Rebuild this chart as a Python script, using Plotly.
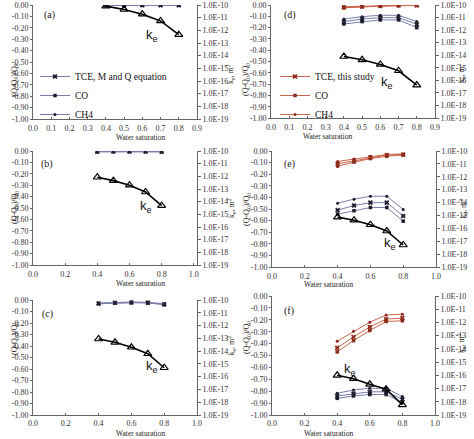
import plotly.graph_objects as go

water_sat = [0.4, 0.5, 0.6, 0.7, 0.8]

# ---- (Q-Q0)/Q0 from M and Q equation ----
mq_tce_a = [-0.003, -0.002, -0.002, -0.002, -0.002]
mq_co_a = [-0.004, -0.003, -0.003, -0.003, -0.003]
mq_ch4_a = [-0.002, -0.001, -0.001, -0.001, -0.001]

mq_tce_b = [-0.006, -0.005, -0.005, -0.005, -0.006]
mq_co_b = [-0.007, -0.006, -0.006, -0.006, -0.007]
mq_ch4_b = [-0.004, -0.003, -0.003, -0.003, -0.004]

mq_tce_c = [-0.030, -0.024, -0.021, -0.023, -0.037]
mq_co_c = [-0.033, -0.027, -0.024, -0.026, -0.041]
mq_ch4_c = [-0.026, -0.021, -0.018, -0.020, -0.033]

mq_tce_d = [-0.147, -0.124, -0.112, -0.112, -0.170]
mq_co_d = [-0.168, -0.147, -0.132, -0.132, -0.200]
mq_ch4_d = [-0.124, -0.103, -0.091, -0.091, -0.147]

mq_tce_e = [-0.510, -0.470, -0.445, -0.445, -0.560]
mq_co_e = [-0.545, -0.515, -0.487, -0.487, -0.605]
mq_ch4_e = [-0.450, -0.415, -0.390, -0.390, -0.505]

mq_tce_f = [-0.840, -0.820, -0.805, -0.805, -0.867]
mq_co_f = [-0.860, -0.840, -0.828, -0.828, -0.894]
mq_ch4_f = [-0.817, -0.790, -0.775, -0.775, -0.845]

# ---- (Q-Q0)/Q0 from this study ----
st_tce_d = [-0.020, -0.013, -0.008, -0.005, -0.003]
st_co_d = [-0.025, -0.016, -0.010, -0.006, -0.004]
st_ch4_d = [-0.015, -0.010, -0.006, -0.004, -0.002]

st_tce_e = [-0.110, -0.085, -0.055, -0.035, -0.030]
st_co_e = [-0.130, -0.095, -0.065, -0.045, -0.035]
st_ch4_e = [-0.090, -0.070, -0.045, -0.030, -0.025]

st_tce_f = [-0.436, -0.344, -0.260, -0.194, -0.186]
st_co_f = [-0.470, -0.375, -0.290, -0.214, -0.208]
st_ch4_f = [-0.380, -0.297, -0.220, -0.160, -0.153]

# ---- effective permeability ke, m^2 ----
ke_a = [8.1e-11, 4.4e-11, 1.9e-11, 5.5e-12, 4.6e-13]
ke_b = [8.5e-13, 4.6e-13, 2.0e-13, 5.8e-14, 4.8e-15]
ke_c = [8.9e-14, 4.9e-14, 2.0e-14, 6.2e-15, 5.0e-16]
ke_d = [7.9e-15, 4.3e-15, 1.85e-15, 5.8e-16, 4.2e-17]
ke_e = [7.4e-16, 4.3e-16, 1.9e-16, 6.2e-17, 5.1e-18]
ke_f = [1.0e-16, 5.6e-17, 2.1e-17, 8.9e-18, 5.9e-19]

left_ticks = [0.0, -0.1, -0.2, -0.3, -0.4, -0.5, -0.6, -0.7, -0.8, -0.9, -1.0]
left_ticktext = ["0.00", "-0.10", "-0.20", "-0.30", "-0.40", "-0.50",
                 "-0.60", "-0.70", "-0.80", "-0.90", "-1.00"]
right_ticks = [1e-10, 1e-11, 1e-12, 1e-13, 1e-14, 1e-15, 1e-16, 1e-17, 1e-18, 1e-19]
right_ticktext = ["1.0E-10", "1.0E-11", "1.0E-12", "1.0E-13", "1.0E-14",
                  "1.0E-15", "1.0E-16", "1.0E-17", "1.0E-18", "1.0E-19"]
x_ticks_09 = [0.0, 0.1, 0.2, 0.3, 0.4, 0.5, 0.6, 0.7, 0.8, 0.9]
x_ticks_10 = [0.0, 0.2, 0.4, 0.6, 0.8, 1.0]

mq_legend_names = ["TCE, M and Q equation", "CO", "CH4"]
st_legend_names = ["TCE, this study", "CO", "CH4"]

W, H = 474, 439

def px(x):
    return x / W

def py(y):
    return 1 - y / H

# panel pixel boxes (left, right, top, bottom); xt_y = bottom of x title
panels = [
    dict(label="(a)", box=(33, 197, 5, 119), xmax=0.9, xt=x_ticks_09,
         mq=(mq_tce_a, mq_co_a, mq_ch4_a), st=None, ke=ke_a,
         lab=(0.093, -0.09), kel=(0.653, -0.27), xt_y=143, so=1),
    dict(label="(b)", box=(33, 197, 151, 265), xmax=1.02, xt=x_ticks_10,
         mq=(mq_tce_b, mq_co_b, mq_ch4_b), st=None, ke=ke_b,
         lab=(0.085, -0.11), kel=(0.70, -0.49), xt_y=289, so=1),
    dict(label="(c)", box=(33, 197, 300, 415), xmax=1.0, xt=x_ticks_10,
         mq=(mq_tce_c, mq_co_c, mq_ch4_c), st=None, ke=ke_c,
         lab=(0.09, -0.12), kel=(0.726, -0.58), xt_y=439, so=0),
    dict(label="(d)", box=(271, 435, 5, 118), xmax=0.9, xt=x_ticks_09,
         mq=(mq_tce_d, mq_co_d, mq_ch4_d), st=(st_tce_d, st_co_d, st_ch4_d), ke=ke_d,
         lab=(0.104, -0.09), kel=(0.637, -0.69), xt_y=142, so=1),
    dict(label="(e)", box=(272, 436, 151, 267), xmax=1.0, xt=x_ticks_10,
         mq=(mq_tce_e, mq_co_e, mq_ch4_e), st=(st_tce_e, st_co_e, st_ch4_e), ke=ke_e,
         lab=(0.104, -0.11), kel=(0.72, -0.80), xt_y=290, so=1),
    dict(label="(f)", box=(272, 435, 296, 415), xmax=1.0, xt=x_ticks_10,
         mq=(mq_tce_f, mq_co_f, mq_ch4_f), st=(st_tce_f, st_co_f, st_ch4_f), ke=ke_f,
         lab=(0.104, -0.13), kel=(0.48, -0.62), xt_y=439, so=0),
]

SERIF = "Liberation Serif"
SANS = "Liberation Sans"
tick_font = dict(family=SERIF, size=8, color="#333333")
AXIS_COLOR = "#666666"

MQ_LINE = "#7a7eab"
MQ_MARK = "#1c1c2c"
ST_LINE = "#c9654c"
ST_MARK = "#8e2a1b"
symbols = ["x", "square", "circle"]
sizes = [4.5, 3.5, 3]

fig = go.Figure()
layout = dict(
    width=W, height=H,
    margin=dict(l=0, r=0, t=0, b=0),
    paper_bgcolor="white", plot_bgcolor="white",
    font=dict(family=SERIF, size=8, color="#333333"),
    annotations=[],
)

for i, p in enumerate(panels, start=1):
    l, r, t, b = p["box"]
    xname = "x" if i == 1 else f"x{i}"
    yname = "y" if i == 1 else f"y{i}"
    y2name = f"y{i + 6}"
    xkey = "xaxis" if i == 1 else f"xaxis{i}"
    ykey = "yaxis" if i == 1 else f"yaxis{i}"
    y2key = f"yaxis{i + 6}"

    layout[xkey] = dict(
        domain=[px(l), px(r)], range=[0, p["xmax"]], anchor=yname,
        tickvals=p["xt"], ticktext=[f"{v:.1f}" for v in p["xt"]],
        showline=True, linecolor=AXIS_COLOR, linewidth=1, mirror=False,
        ticks="inside", ticklen=2, tickcolor=AXIS_COLOR, ticklabelstandoff=p["so"],
        showgrid=False, zeroline=False, tickfont=tick_font, automargin=False,
    )
    layout[ykey] = dict(
        domain=[py(b), py(t)], range=[-1.0, 0.0], anchor=xname,
        tickvals=left_ticks, ticktext=left_ticktext,
        showline=True, linecolor=AXIS_COLOR, linewidth=1,
        ticks="outside", ticklen=2, tickcolor=AXIS_COLOR,
        showgrid=False, zeroline=False, tickfont=tick_font, automargin=False,
    )
    layout[y2key] = dict(
        type="log", range=[-19, -10], overlaying=yname, side="right", anchor=xname,
        tickvals=right_ticks, ticktext=right_ticktext,
        showline=True, linecolor=AXIS_COLOR, linewidth=1,
        ticks="outside", ticklen=3, tickcolor=AXIS_COLOR,
        showgrid=False, zeroline=False, tickfont=tick_font, automargin=False,
    )

    for k, vals in enumerate(p["mq"]):
        fig.add_trace(go.Scatter(
            x=water_sat, y=vals, xaxis=xname, yaxis=yname,
            mode="lines+markers", name=mq_legend_names[k],
            line=dict(color=MQ_LINE, width=1),
            marker=dict(symbol=symbols[k], size=sizes[k], color=MQ_MARK),
            showlegend=(i == 1), legend="legend",
        ))
    if p["st"] is not None:
        for k, vals in enumerate(p["st"]):
            fig.add_trace(go.Scatter(
                x=water_sat, y=vals, xaxis=xname, yaxis=yname,
                mode="lines+markers", name=st_legend_names[k],
                line=dict(color=ST_LINE, width=1),
                marker=dict(symbol=symbols[k], size=sizes[k], color=ST_MARK),
                showlegend=(i == 4), legend="legend2",
            ))
    fig.add_trace(go.Scatter(
        x=water_sat, y=p["ke"], xaxis=xname, yaxis=y2name,
        mode="lines+markers", name="ke",
        line=dict(color="black", width=1.6),
        marker=dict(symbol="triangle-up-open", size=7, color="black",
                    line=dict(width=1.2, color="black")),
        showlegend=False,
    ))

    ann = layout["annotations"]
    ann.append(dict(text=p["label"], x=p["lab"][0], y=p["lab"][1], xref=xname, yref=yname,
                    showarrow=False, font=dict(family=SERIF, size=10, color="#222222")))
    ann.append(dict(text="k<sub>e</sub>", x=p["kel"][0], y=p["kel"][1], xref=xname, yref=yname,
                    showarrow=False, font=dict(family=SANS, size=13, color="#111111")))
    ann.append(dict(text="Water saturation", x=px((l + r) / 2), y=py(p["xt_y"]),
                    xref="paper", yref="paper", yanchor="bottom", showarrow=False,
                    borderpad=0, font=dict(family=SERIF, size=7.5, color="#222222")))
    ann.append(dict(text="(Q-Q<sub>0</sub>)/Q<sub>0</sub>", x=px(l - 25), y=py((t + b) / 2),
                    xref="paper", yref="paper", showarrow=False, textangle=-90,
                    font=dict(family=SERIF, size=8, color="#222222")))
    ann.append(dict(text="k<sub>e</sub>, m<sup>2</sup>", x=px(r + 34), y=py((t + b) / 2),
                    xref="paper", yref="paper", showarrow=False, textangle=-90,
                    font=dict(family=SERIF, size=8, color="#222222")))

layout["legend"] = dict(x=px(35), y=py(62), xanchor="left", yanchor="top",
                        bgcolor="rgba(0,0,0,0)", font=dict(family=SERIF, size=9.5, color="#111111"),
                        tracegroupgap=0)
layout["legend2"] = dict(x=px(275), y=py(62), xanchor="left", yanchor="top",
                         bgcolor="rgba(0,0,0,0)", font=dict(family=SERIF, size=9.5, color="#111111"),
                         tracegroupgap=0)

fig.update_layout(**layout)
fig.write_html("out.html", config={"displayModeBar": False},
               post_script="document.body.style.margin='0px';")
